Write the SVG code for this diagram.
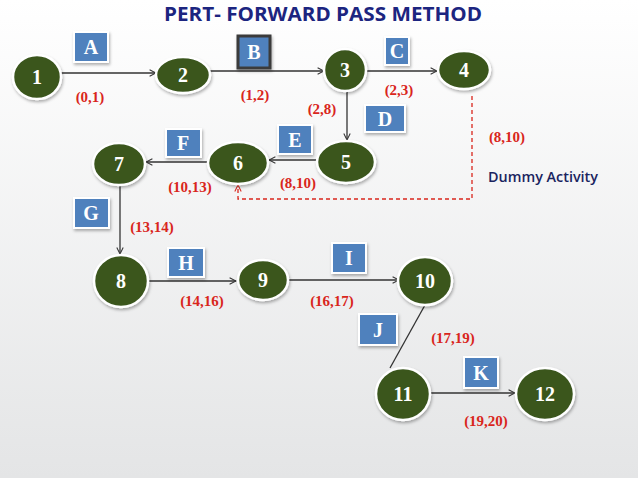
<svg xmlns="http://www.w3.org/2000/svg" width="638" height="478" viewBox="0 0 638 478">
<defs>
<linearGradient id="bg" x1="0" y1="0" x2="0" y2="1">
<stop offset="0" stop-color="#ffffff"/>
<stop offset="1" stop-color="#e4e5e6"/>
</linearGradient>
<filter id="sh" x="-30%" y="-30%" width="160%" height="160%">
<feDropShadow dx="1" dy="2" stdDeviation="1.5" flood-color="#000" flood-opacity="0.3"/>
</filter>
<marker id="ar" viewBox="0 0 10 10" refX="9" refY="5" markerWidth="8" markerHeight="8" orient="auto" markerUnits="userSpaceOnUse">
<path d="M1,1 L9,5 L1,9" fill="none" stroke="#333" stroke-width="1.3"/>
</marker>
<marker id="arr" viewBox="0 0 10 10" refX="9" refY="5" markerWidth="8" markerHeight="8" orient="auto" markerUnits="userSpaceOnUse">
<path d="M1,1 L9,5 L1,9" fill="none" stroke="#d9261c" stroke-width="1.3"/>
</marker>
</defs>
<style>
.n ellipse{fill:#3a561f;stroke:#fff;stroke-width:2.5;filter:url(#sh)}
.n text{fill:#fff;font-family:"Liberation Serif",serif;font-weight:bold;font-size:20px;text-anchor:middle}
.b rect{fill:#4f81bd;stroke:#fff;stroke-width:2;filter:url(#sh)}
.b text{fill:#fff;font-family:"Liberation Serif",serif;font-weight:bold;font-size:20px;text-anchor:middle}
.lbl{fill:#d9261c;font-family:"Liberation Serif",serif;font-weight:bold;font-size:15px;text-anchor:middle}
.e line,.e path{stroke:#333;stroke-width:1.3;fill:none}
</style>
<rect width="638" height="478" fill="url(#bg)"/>
<text x="323" y="21" font-family="'Open Sans',sans-serif" font-weight="bold" font-size="19" fill="#1c2580" text-anchor="middle" textLength="318" lengthAdjust="spacingAndGlyphs">PERT- FORWARD PASS METHOD</text>

<g id="connectors" class="e">
<line x1="60" y1="73" x2="156" y2="73" marker-end="url(#ar)"/>
<line x1="210" y1="71" x2="324" y2="71" marker-end="url(#ar)"/>
<line x1="366" y1="71" x2="437" y2="71" marker-end="url(#ar)"/>
<line x1="347" y1="91" x2="347" y2="140" marker-end="url(#ar)"/>
<line x1="317" y1="160" x2="269" y2="160" marker-end="url(#ar)"/>
<line x1="208" y1="162" x2="146" y2="162" marker-end="url(#ar)"/>
<line x1="120" y1="185" x2="120" y2="254" marker-end="url(#ar)"/>
<line x1="148" y1="281" x2="236" y2="281" marker-end="url(#ar)"/>
<line x1="288" y1="280" x2="399" y2="280" marker-end="url(#ar)"/>
<line x1="425" y1="305" x2="390" y2="368"/>
<line x1="431" y1="393" x2="515" y2="393" marker-end="url(#ar)"/>
<path d="M472,96 V199 H238 V185" stroke="#d9261c" stroke-width="1.2" stroke-dasharray="4,3" style="stroke:#d9261c" marker-end="url(#arr)"/>
</g>

<g id="n1" class="n"><ellipse cx="37" cy="77" rx="24" ry="22"/><text x="37" y="84">1</text></g>
<g id="n2" class="n"><ellipse cx="183" cy="75" rx="27" ry="18"/><text x="183" y="82">2</text></g>
<g id="n3" class="n"><ellipse cx="345" cy="70" rx="21" ry="21"/><text x="345" y="77">3</text></g>
<g id="n4" class="n"><ellipse cx="464" cy="70" rx="26" ry="19"/><text x="464" y="77">4</text></g>
<g id="n5" class="n"><ellipse cx="346" cy="162" rx="29" ry="21"/><text x="346" y="169">5</text></g>
<g id="n6" class="n"><ellipse cx="238" cy="163" rx="30" ry="21"/><text x="238" y="170">6</text></g>
<g id="n7" class="n"><ellipse cx="119" cy="164" rx="26" ry="21"/><text x="119" y="171">7</text></g>
<g id="n8" class="n"><ellipse cx="121" cy="281" rx="27" ry="26"/><text x="121" y="288">8</text></g>
<g id="n9" class="n"><ellipse cx="263" cy="280" rx="25" ry="20"/><text x="263" y="287">9</text></g>
<g id="n10" class="n"><ellipse cx="425" cy="281" rx="27" ry="24"/><text x="425" y="288">10</text></g>
<g id="n11" class="n"><ellipse cx="403" cy="394" rx="27" ry="26"/><text x="403" y="401">11</text></g>
<g id="n12" class="n"><ellipse cx="545" cy="394" rx="29" ry="26"/><text x="545" y="401">12</text></g>

<g id="bA" class="b"><rect x="74" y="32" width="34" height="30"/><text x="91" y="54">A</text></g>
<g id="bB" class="b"><rect x="238" y="36" width="32" height="32" style="stroke:#3a3a3a;stroke-width:3"/><text x="254" y="59">B</text></g>
<g id="bC" class="b"><rect x="385" y="37" width="24" height="28"/><text x="397" y="58">C</text></g>
<g id="bD" class="b"><rect x="365" y="105" width="40" height="27"/><text x="385" y="126">D</text></g>
<g id="bE" class="b"><rect x="278" y="125" width="34" height="29"/><text x="295" y="147">E</text></g>
<g id="bF" class="b"><rect x="166" y="129" width="35" height="28"/><text x="183" y="150">F</text></g>
<g id="bG" class="b"><rect x="74" y="198" width="35" height="30"/><text x="91" y="220">G</text></g>
<g id="bH" class="b"><rect x="168" y="248" width="36" height="29"/><text x="186" y="270">H</text></g>
<g id="bI" class="b"><rect x="332" y="243" width="34" height="30"/><text x="349" y="265">I</text></g>
<g id="bJ" class="b"><rect x="359" y="314" width="38" height="31"/><text x="378" y="337">J</text></g>
<g id="bK" class="b"><rect x="464" y="357" width="34" height="31"/><text x="481" y="380">K</text></g>

<g id="labels">
<text class="lbl" x="90" y="102">(0,1)</text>
<text class="lbl" x="255" y="100">(1,2)</text>
<text class="lbl" x="399" y="95">(2,3)</text>
<text class="lbl" x="322" y="114">(2,8)</text>
<text class="lbl" x="507" y="142">(8,10)</text>
<text class="lbl" x="298" y="188">(8,10)</text>
<text class="lbl" x="190" y="192">(10,13)</text>
<text class="lbl" x="152" y="232">(13,14)</text>
<text class="lbl" x="202" y="306">(14,16)</text>
<text class="lbl" x="332" y="306">(16,17)</text>
<text class="lbl" x="453" y="343">(17,19)</text>
<text class="lbl" x="486" y="426">(19,20)</text>
<text x="488" y="182" font-family="'Open Sans',sans-serif" font-weight="600" font-size="13.5" fill="#1a2460" textLength="110" lengthAdjust="spacingAndGlyphs">Dummy Activity</text>
</g>
</svg>
